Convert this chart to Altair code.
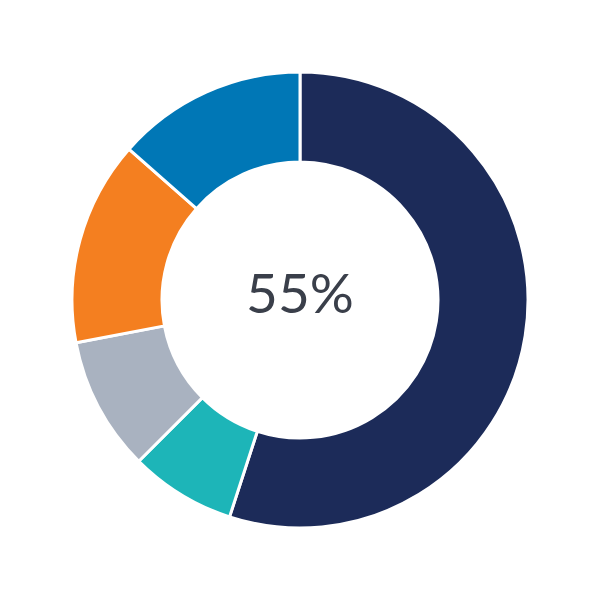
import altair as alt
import pandas as pd

categories = ["A", "B", "C", "D", "E"]
values = [55, 7.5, 9.5, 14.5, 13.5]
colors = ["#1c2b59", "#1db5b8", "#a9b2c0", "#f47f20", "#0077b6"]
center_label = "55%"

df = pd.DataFrame({"category": categories, "value": values, "order": list(range(len(categories)))})

base = alt.Chart(df)
arc = base.mark_arc(outerRadius=228, innerRadius=138, stroke="white", strokeWidth=3).encode(
    theta=alt.Theta("value:Q", stack=True),
    color=alt.Color("category:N", scale=alt.Scale(domain=categories, range=colors), legend=None),
    order=alt.Order("order:Q"),
)

text = alt.Chart(pd.DataFrame({"t": [center_label]})).mark_text(
    font="Lato", fontSize=55, fontWeight=400, color="#3a3f4a", baseline="middle", align="center", dy=-4
).encode(text="t:N")

chart = alt.layer(arc, text).properties(width=584, height=584, padding=0).configure_view(stroke=None)
chart.save("out.html", embed_options={"renderer": "svg", "actions": False})
